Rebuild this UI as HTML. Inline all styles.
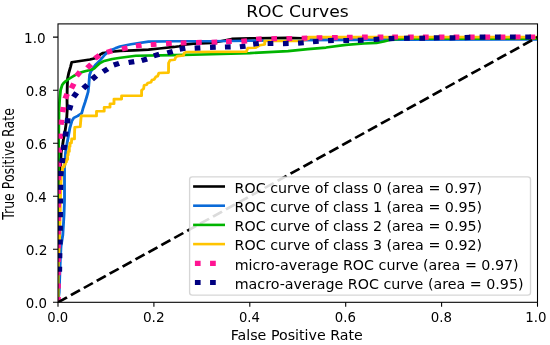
<!DOCTYPE html>
<html><head><meta charset="utf-8"><title>ROC Curves</title><style>html,body{margin:0;padding:0;background:#fff;overflow:hidden;width:550px;height:345px}</style></head><body>
<svg width="550" height="345" viewBox="0 0 550 345" style="display:block">
<defs><clipPath id="ax"><rect x="56.33" y="25.75" width="465.71" height="300"/></clipPath></defs>
<rect width="550" height="345" fill="#fff"/>
<g transform="scale(1.0296 0.928)" fill="none" stroke-linejoin="round" clip-path="url(#ax)">
<path d="M56.33 325.75 L56.62 280.17 L57.11 215.52 L58.47 188.58 L59.44 163.79 L60.8 156.25 L61.77 149.14 L63.33 140.41 L64.69 129.42 L65.27 118.53 L65.07 105.6 L65.37 92.13 L65.66 84.7 L66.82 78.45 L68.47 72.2 L69.64 67.13 L87.41 64.22 L94.21 62.28 L97.51 58.51 L100.04 57.11 L108.49 55.71 L116.55 54.85 L130.15 54.31 L144.23 53.45 L154.91 52.26 L169 50.54 L174.15 49.78 L181.14 47.84 L188.23 46.98 L205.91 46.23 L225.14 41.92 L242.81 41.38 L279.72 40.84 L293.32 41.16 L301.09 40.09 L522.05 40.09" stroke="#000" stroke-width="2.78" stroke-linecap="square"/>
<path d="M56.33 325.75 L57.5 314.66 L58.08 296.34 L58.66 278.23 L59.25 265.73 L60.99 253.23 L62.16 231.68 L62.65 215.52 L62.65 179.96 L63.62 164.87 L65.37 153.02 L67.89 137.72 L69.83 130.28 L71.68 127.05 L75.56 124.89 L79.35 121.98 L80.81 116.16 L82.75 109.81 L84.21 104.42 L85.57 99.14 L86.25 92.13 L87.02 80.82 L88.19 77.16 L92.46 70.26 L97.51 64.66 L101.79 59.05 L106.84 54.31 L111.89 52.05 L116.55 50.11 L127.23 47.63 L144.23 44.83 L169 44.5 L203.96 44.5 L242.81 43.86 L285.55 43.43 L343.82 43 L388.5 42.78 L522.05 42.46 L522.05 40.09" stroke="#0a6ad8" stroke-width="2.78" stroke-linecap="square"/>
<path d="M56.33 325.75 L56.53 269.4 L56.72 188.58 L56.92 150.86 L57.3 118.53 L57.89 107.76 L58.86 97.09 L60.41 91.59 L61.87 89.44 L64.1 87.28 L66.82 85.13 L69.93 82.97 L72.94 80.93 L75.76 79.31 L79.16 77.91 L82.56 76.72 L86.64 75.75 L89.36 75 L91.59 73.6 L94.11 70.91 L97.13 67.89 L101.2 65.62 L109.07 63.47 L116.94 62.18 L131.9 60.13 L169 59.38 L205.91 58.51 L242.81 57.22 L279.72 55.06 L298.95 52.91 L316.63 51.29 L335.86 48.38 L353.54 46.88 L365.68 46.23 L372.77 44.72 L378.4 43.1 L390.44 41.81 L522.05 41.59 L522.05 40.09" stroke="#00b400" stroke-width="2.78" stroke-linecap="square"/>
<path d="M56.33 325.75 L56.33 301.72 L56.62 283.41 L57.3 269.4 L57.89 254.31 L58.28 239.22 L58.76 211.21 L59.25 196.12 L59.73 185.34 L60.7 183.73 L60.7 179.96 L62.26 179.96 L62.26 177.26 L63.42 177.26 L63.42 174.57 L64.49 174.57 L64.49 171.88 L65.66 171.88 L65.66 167.03 L66.24 167.03 L66.24 163.25 L67.31 163.25 L67.31 157.87 L67.99 157.87 L67.99 154.09 L69.35 154.09 L69.64 149.68 L72.36 149.68 L72.36 144.07 L72.65 137.18 L77.89 136.64 L78.38 130.82 L78.87 124.89 L93.73 124.89 L93.73 119.94 L101.2 119.94 L101.2 115.52 L106.84 115.52 L106.84 111.85 L110.72 111.85 L110.72 106.79 L118.1 106.79 L118.1 103.12 L137.53 103.12 L137.53 97.31 L139.47 95.69 L139.96 91.92 L142.48 91.27 L143.55 89.33 L146.66 88.58 L147.53 86.31 L149.67 85.67 L151.32 82.76 L153.07 82.22 L154.33 78.66 L163.66 78.23 L163.75 67.89 L165.11 64.87 L169.68 64.44 L170.55 61.85 L172.2 60.45 L178.13 59.81 L179 57.11 L180.65 56.03 L239.32 55.6 L240.68 51.72 L247.96 51.51 L252.14 48.81 L257.09 47.95 L257.09 44.07 L293.32 44.07 L299.63 41.92 L299.63 39.98 L522.05 39.98" stroke="#ffc400" stroke-width="2.78" stroke-linecap="square"/>
<path d="M56.33 325.73L56.33 320.17M56.33 310.97L56.33 305.41M56.33 296.53L56.33 290.97M56.33 282.2L56.33 276.64M56.33 267.43L56.33 261.88M56.33 252.78L56.33 247.22M56.32 238.12L56.34 232.57M56.41 223.58L56.45 218.02M56.51 208.92L56.55 203.36M56.59 194.26L56.66 188.71M56.82 179.61L57.01 174.06M57.45 164.52L57.74 158.97M58.3 149.54L58.64 143.99M59.18 134.55L59.7 129.02M60.72 120.84L61.66 115.37M63.34 106.27L65.25 101.06M69.29 95.17L71.73 90.18M74.37 81.85L77.72 77.42M84.68 73.3L88.6 69.37M92.23 62.94L96.58 59.47M103.72 56.5L108.98 54.71M118.41 52.77L123.82 51.54M131.97 49.55L137.46 48.73M146.41 48.17L151.95 47.74M161.27 47.04L166.82 46.71M175.55 46.33L181.1 46.13M190.4 45.87L195.96 45.73M205.46 45.58L211.01 45.37M219.54 44.83L225.09 44.61M234.41 44.53L239.95 44.04M248.69 42.38L254.22 41.89M263.54 41.76L269.09 41.64M278.21 41.54L283.76 41.44M292.97 41.24L298.52 41.09M307.54 40.79L313.09 40.67M322.49 40.57L328.05 40.47M336.97 40.25L342.52 40.14M351.63 40L357.19 39.96M366.78 39.99L372.34 39.97M380.96 39.87L386.52 39.87M396.31 39.97L401.86 39.99M410.78 39.98L416.34 39.98M426.13 39.98L431.68 39.98M440.6 39.98L446.15 39.98M455.46 39.98L461.01 39.98M470.51 39.98L476.07 39.98M485.28 39.99L490.83 39.97M500.04 39.88L505.59 39.86M514.22 39.87L519.77 39.87" stroke="#ff1493" stroke-width="5.56"/>
<path d="M57.56 292.86L57.63 287.31M57.74 278.32L57.84 272.76M58.04 263.55L58.13 258M58.25 248.68L58.3 243.13M58.35 234.03L58.39 228.47M58.44 219.37L58.5 213.82M58.61 204.61L58.72 199.05M58.87 189.84L59.24 184.3M60.3 175.71L60.91 170.19M61.86 161.6L62.46 156.07M63.39 147.16L64.04 141.64M65.16 132.81L65.96 127.32M67.18 118.53L68.6 113.16M71.4 104.58L74.48 99.95M80.89 95.29L84.8 91.34M89.43 85.37L93.56 81.66M100.06 77.29L104.68 74.22M110.43 70.1L115.68 68.26M124.89 67.4L130.36 66.44M137.59 65.26L142.9 63.62M149.36 60.24L154.64 58.51M162.43 56.98L167.79 55.52M174.51 52.94L179.99 52.01M189.05 51.87L194.6 51.58M204 51.08L209.55 50.86M218.47 50.62L224.03 50.46M232.97 50.44L238.48 49.77M245.88 47.53L251.4 46.87M259.95 46.91L265.5 46.84M274.81 46.94L280.36 46.81M289.48 46.43L295.02 46.02M303.95 44.97L309.49 44.47M318.61 43.74L324.16 43.54M333.47 43.67L339.02 43.61M347.56 43.44L353.11 43.2M362.9 42.52L368.45 42.18M377.47 41.6L383.02 41.38M392.42 41.19L397.98 41.13M407.28 41.21L412.84 41.12M421.37 40.77L426.92 40.69M436.71 40.76L442.27 40.7M451.28 40.48L456.84 40.34M465.85 40.02L471.41 39.94M480.71 39.99L486.27 39.97M495.28 39.88L500.84 39.86M510.14 39.87L515.7 39.87" stroke="#000080" stroke-width="5.56"/>
<path d="M56.33 325.75 L522.05 40.04" stroke="#000" stroke-width="2.78" stroke-dasharray="10.28 4.44"/>
</g>
<rect x="58" y="23.9" width="479.5" height="278.4" fill="none" stroke="#000" stroke-width="1.08"/>
<path d="M58 302.3v4.51M58 302.3h-5M153.9 302.3v4.51M58 249.27h-5M249.8 302.3v4.51M58 196.24h-5M345.7 302.3v4.51M58 143.21h-5M441.6 302.3v4.51M58 90.19h-5M537.5 302.3v4.51M58 37.16h-5" stroke="#000" stroke-width="1.08" fill="none"/>
<rect x="189.6" y="176.9" width="340.9" height="118.2" rx="2.8" ry="2.6" fill="#fff" fill-opacity="0.86" stroke="#cccccc" stroke-opacity="0.8" stroke-width="1.35"/>
<rect x="193.1" y="185.21" width="31.9" height="2.58" fill="#000"/>
<rect x="193.1" y="204.41" width="31.9" height="2.58" fill="#0a6ad8"/>
<rect x="193.1" y="223.61" width="31.9" height="2.58" fill="#00b400"/>
<rect x="193.1" y="242.81" width="31.9" height="2.58" fill="#ffc400"/>
<path d="M194.9 263.3H200.62M210.06 263.3H215.78" stroke="#ff1493" stroke-width="5.16"/>
<path d="M194.9 282.5H200.62M210.06 282.5H215.78" stroke="#000080" stroke-width="5.16"/>
<g font-family="DejaVu Sans, Liberation Sans, sans-serif" font-size="14" fill="#000">
<text transform="matrix(1.2273 0 0 1.0778 246.18 16.7)">ROC Curves</text>
<text transform="matrix(1.0167 0 0 0.9602 230.68 339.8)">False Positive Rate</text>
<text transform="matrix(0 -0.8965 1.0778 0 14.1 219.8)">True Positive Rate</text>
<text transform="matrix(0.9540 0 0 0.9798 25.67 307.85)">0.0</text>
<text transform="matrix(0.9809 0 0 0.9798 25.64 254.82)">0.2</text>
<text transform="matrix(0.9475 0 0 0.9798 25.67 201.79)">0.4</text>
<text transform="matrix(0.9540 0 0 0.9798 25.67 148.76)">0.6</text>
<text transform="matrix(0.9606 0 0 0.9798 25.66 95.74)">0.8</text>
<text transform="matrix(0.9708 0 0 0.9798 24.1 42.71)">1.0</text>
<text transform="matrix(0.9442 0 0 0.9700 47.27 321.8)">0.0</text>
<text transform="matrix(0.9759 0 0 0.9700 142.94 321.8)">0.2</text>
<text transform="matrix(0.9427 0 0 0.9700 238.88 321.8)">0.4</text>
<text transform="matrix(0.9491 0 0 0.9700 334.77 321.8)">0.6</text>
<text transform="matrix(0.9557 0 0 0.9700 430.66 321.8)">0.8</text>
<text transform="matrix(0.9557 0 0 0.9700 525.33 321.8)">1.0</text>
<text transform="matrix(1.0195 0 0 0.9406 234.57 192.6)">ROC curve of class 0 (area = 0.97)</text>
<text transform="matrix(1.0195 0 0 0.9406 234.57 211.7)">ROC curve of class 1 (area = 0.95)</text>
<text transform="matrix(1.0195 0 0 0.9406 234.57 230.9)">ROC curve of class 2 (area = 0.95)</text>
<text transform="matrix(1.0195 0 0 0.9406 234.57 250.3)">ROC curve of class 3 (area = 0.92)</text>
<text transform="matrix(1.0184 0 0 0.9406 234.72 269.8)">micro-average ROC curve (area = 0.97)</text>
<text transform="matrix(1.0195 0 0 0.9406 234.72 289)">macro-average ROC curve (area = 0.95)</text>
</g>
</svg>
</body></html>
